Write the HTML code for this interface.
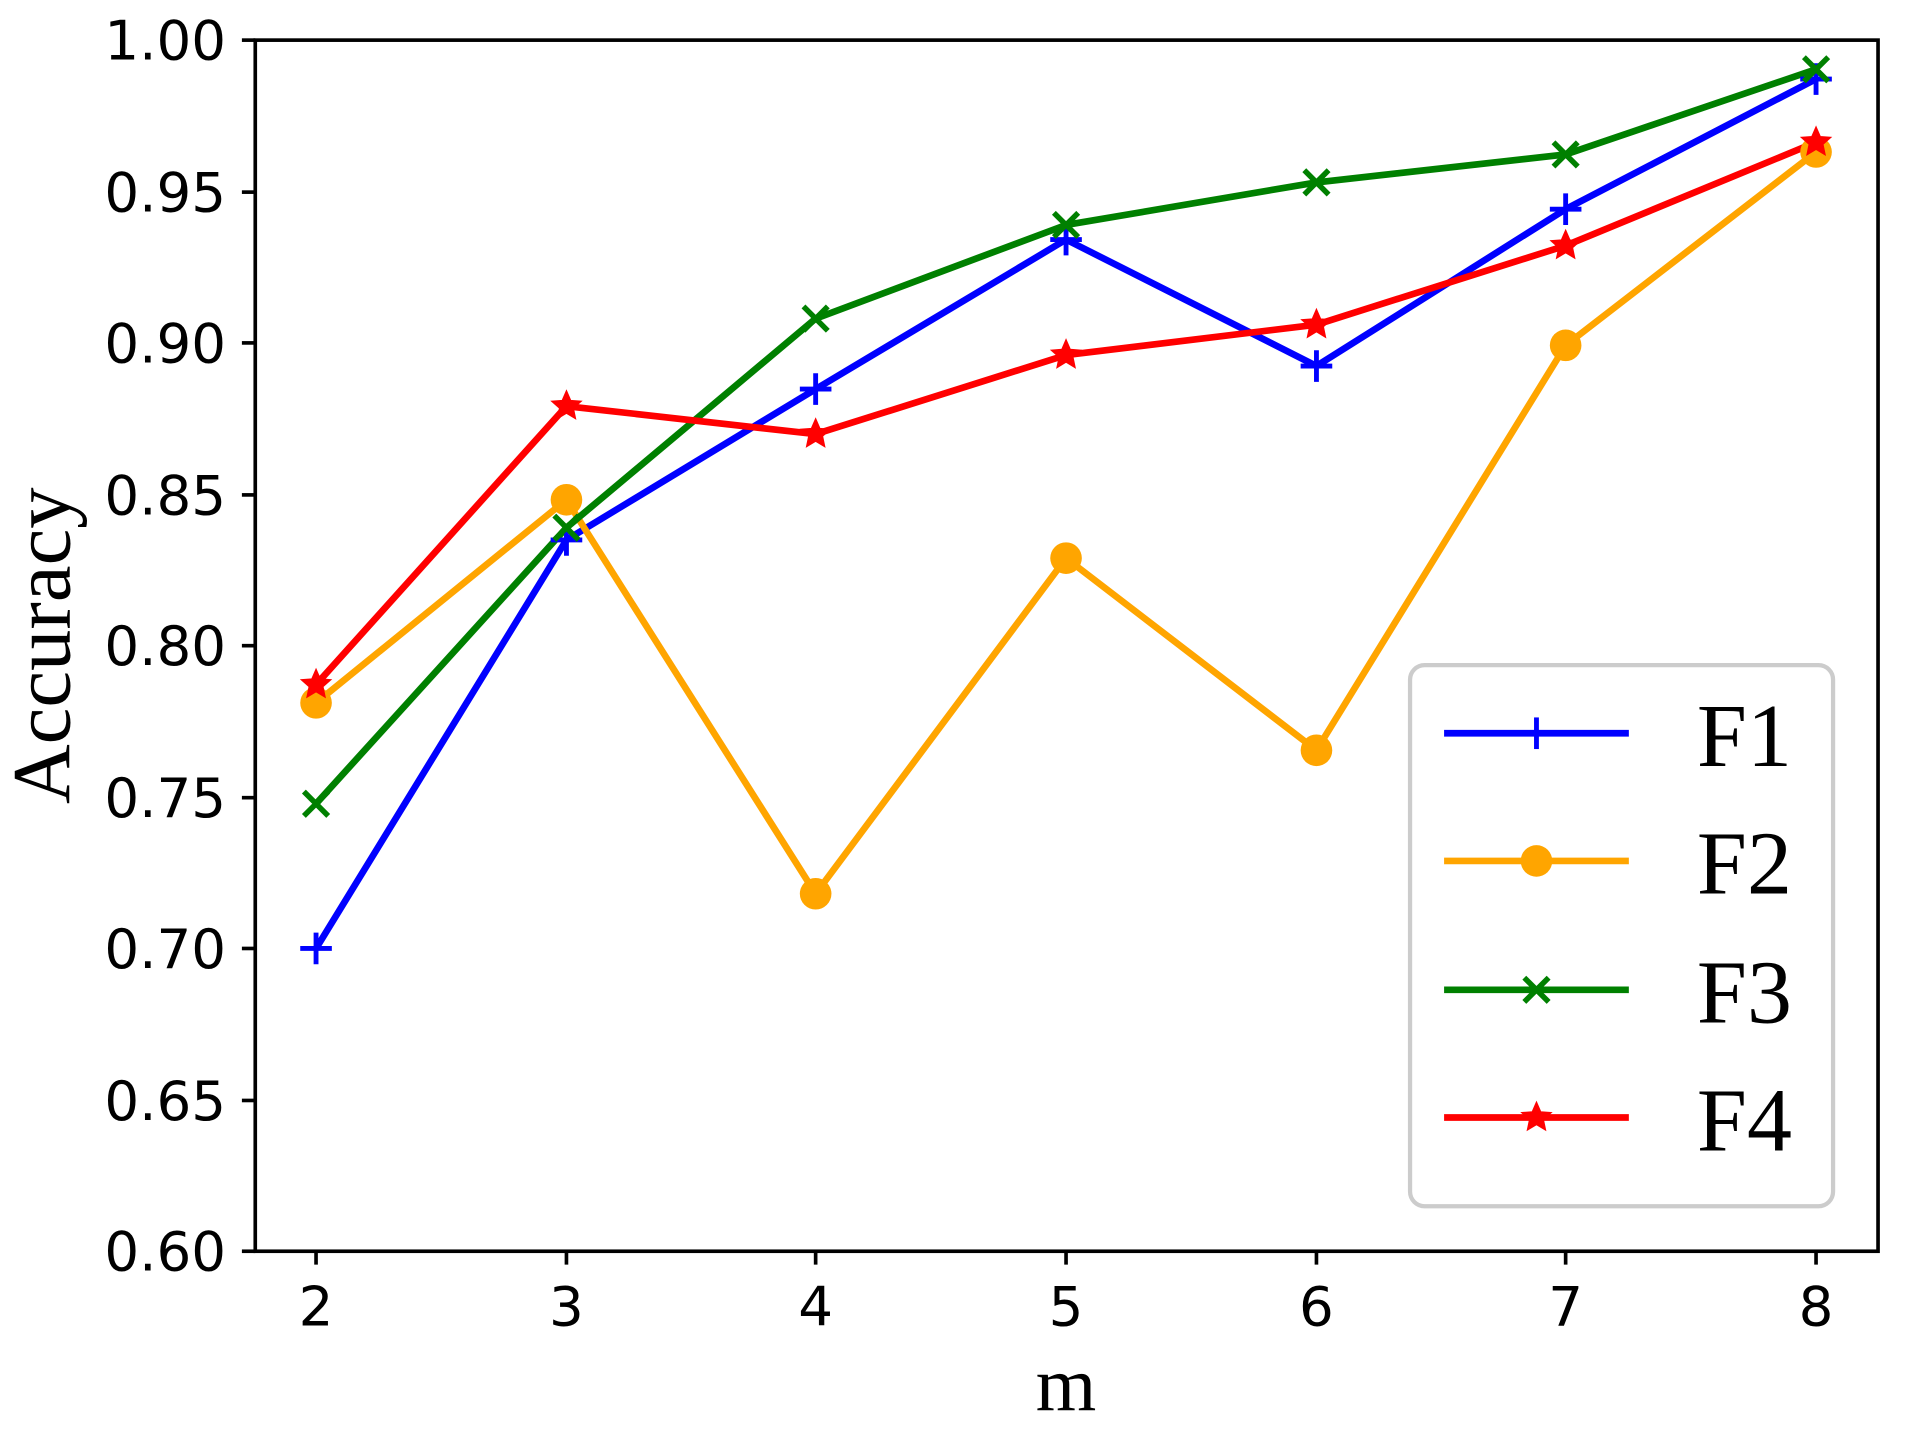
<!DOCTYPE html>
<html><head><meta charset="utf-8"><style>html,body{margin:0;padding:0;background:#fff;}svg{display:block;}</style></head>
<body>
<svg width="1906" height="1430" viewBox="0 0 1568 1176" preserveAspectRatio="none" xmlns="http://www.w3.org/2000/svg">
<rect width="1568" height="1176" fill="#fff"/>
<g font-family="DejaVu Sans, sans-serif" font-size="45" fill="#000" text-anchor="end">
<text x="186" y="49">1.00</text><text x="186" y="174">0.95</text><text x="186" y="298">0.90</text>
<text x="186" y="423">0.85</text><text x="186" y="547">0.80</text><text x="186" y="672">0.75</text>
<text x="186" y="796">0.70</text><text x="186" y="921">0.65</text><text x="186" y="1045">0.60</text>
</g>
<g stroke="#000" stroke-width="3">
<line x1="199" y1="33" x2="210" y2="33"/><line x1="199" y1="158" x2="210" y2="158"/><line x1="199" y1="282" x2="210" y2="282"/>
<line x1="199" y1="407" x2="210" y2="407"/><line x1="199" y1="531" x2="210" y2="531"/><line x1="199" y1="656" x2="210" y2="656"/>
<line x1="199" y1="780" x2="210" y2="780"/><line x1="199" y1="905" x2="210" y2="905"/><line x1="199" y1="1029" x2="210" y2="1029"/>
<line x1="260" y1="1029" x2="260" y2="1040"/><line x1="466" y1="1029" x2="466" y2="1040"/><line x1="671" y1="1029" x2="671" y2="1040"/>
<line x1="877" y1="1029" x2="877" y2="1040"/><line x1="1083" y1="1029" x2="1083" y2="1040"/><line x1="1288" y1="1029" x2="1288" y2="1040"/>
<line x1="1494" y1="1029" x2="1494" y2="1040"/>
</g>
<g font-family="DejaVu Sans, sans-serif" font-size="45" fill="#000" text-anchor="middle">
<text x="260" y="1090">2</text><text x="466" y="1090">3</text><text x="671" y="1090">4</text><text x="877" y="1090">5</text>
<text x="1083" y="1090">6</text><text x="1288" y="1090">7</text><text x="1494" y="1090">8</text>
</g>
<text x="877" y="1160" font-family="Liberation Serif, serif" font-size="64" text-anchor="middle">m</text>
<text transform="translate(57,531) rotate(-90)" font-family="Liberation Serif, serif" font-size="68" text-anchor="middle">Accuracy</text>

<g fill="none" stroke-width="5.5" stroke-linejoin="round">
<polyline stroke="#0000ff" points="260,780 466,444 671,320 877,197 1083,301 1288,172 1494,65"/>
<polyline stroke="#ffa500" points="260,578 466,411 671,735 877,459 1083,617 1288,284 1494,125"/>
<polyline stroke="#008000" points="260,661 466,434 671,262 877,185 1083,150 1288,127 1494,57"/>
<polyline stroke="#ff0000" points="260,563 466,334 671,357 877,292 1083,267 1288,202 1494,117"/>
</g>
<g fill="#ffa500">
<circle cx="260" cy="578" r="13"/><circle cx="466" cy="411" r="13"/><circle cx="671" cy="735" r="13"/><circle cx="877" cy="459" r="13"/>
<circle cx="1083" cy="617" r="13"/><circle cx="1288" cy="284" r="13"/><circle cx="1494" cy="125" r="13"/>
</g>
<g stroke="#0000ff" stroke-width="4">
<path d="M247,780h26M260,767v26M453,444h26M466,431v26M658,320h26M671,307v26M864,197h26M877,184v26M1070,301h26M1083,288v26M1275,172h26M1288,159v26M1481,65h26M1494,52v26"/>
</g>
<g stroke="#008000" stroke-width="4.5">
<path d="M250,651l20,20M270,651l-20,20 M456,424l20,20M476,424l-20,20 M661,252l20,20M681,252l-20,20 M867,175l20,20M887,175l-20,20 M1073,140l20,20M1093,140l-20,20 M1278,117l20,20M1298,117l-20,20 M1484,47l20,20M1504,47l-20,20"/>
</g>
<defs><path id="st" d="M0,-12 L3.3,-4.4 L11.5,-3.8 L5.4,1.6 L7.1,9.8 L0,5.5 L-7.1,9.8 L-5.4,1.6 L-11.5,-3.8 L-3.3,-4.4Z" fill="#ff0000" stroke="#ff0000" stroke-width="1.5"/></defs>
<use href="#st" x="260" y="563"/><use href="#st" x="466" y="334"/><use href="#st" x="671" y="357"/><use href="#st" x="877" y="292"/>
<use href="#st" x="1083" y="267"/><use href="#st" x="1288" y="202"/><use href="#st" x="1494" y="117"/>

<rect x="210" y="33" width="1335" height="996" fill="none" stroke="#000" stroke-width="3"/>

<rect x="1160" y="547" width="348" height="445" rx="12" fill="#fff" fill-opacity="0.8" stroke="#ccc" stroke-width="3.5"/>
<g stroke-width="5.5">
<line x1="1188" y1="603" x2="1340" y2="603" stroke="#0000ff"/>
<path d="M1264,590v26" stroke="#0000ff" stroke-width="4"/>
<line x1="1188" y1="708" x2="1340" y2="708" stroke="#ffa500"/>
<line x1="1188" y1="814" x2="1340" y2="814" stroke="#008000"/>
<path d="M1254,804l20,20M1274,804l-20,20" stroke="#008000" stroke-width="4.5"/>
<line x1="1188" y1="919" x2="1340" y2="919" stroke="#ff0000"/>
</g>
<circle cx="1264" cy="708" r="13" fill="#ffa500"/>
<use href="#st" x="1264" y="919"/>
<g font-family="Liberation Serif, serif" font-size="74" fill="#000">
<text x="1396" y="630">F1</text><text x="1396" y="735">F2</text><text x="1396" y="841">F3</text><text x="1396" y="946">F4</text>
</g>
</svg>
</body></html>
